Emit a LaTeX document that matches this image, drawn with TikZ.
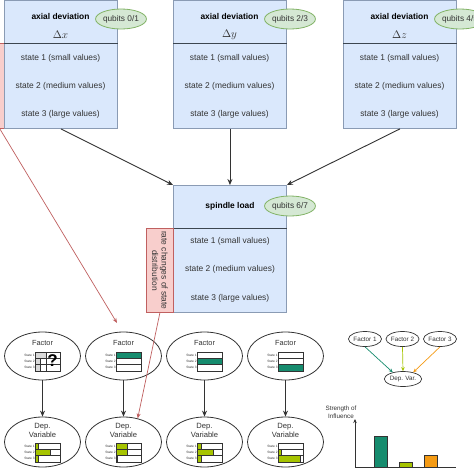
\documentclass[tikz,border=0pt]{standalone}
\usepackage{fontspec}
\setmainfont{Liberation Sans}
\usetikzlibrary{arrows.meta,shapes.geometric}
\definecolor{boxfill}{HTML}{DAE8FC}
\definecolor{boxline}{HTML}{8A9BB4}
\definecolor{divline}{HTML}{3C4650}
\definecolor{redfill}{HTML}{F8CECC}
\definecolor{redline}{HTML}{C06060}
\definecolor{grnfill}{HTML}{D5E8D4}
\definecolor{grnline}{HTML}{82B366}
\definecolor{tealc}{RGB}{22,140,110}
\definecolor{limec}{RGB}{166,196,0}
\definecolor{orangec}{RGB}{245,155,20}
\definecolor{ink}{HTML}{333333}
\definecolor{cellgray}{HTML}{D9D9D9}
\tikzset{
  hdr/.style={draw=boxline, fill=boxfill, line width=0.9pt, minimum width=113pt, minimum height=43pt, inner sep=0pt, anchor=north west},
  bdy/.style={hdr, minimum height=85pt},
  redbox/.style={draw=redline, fill=redfill, line width=0.8pt, minimum width=27pt, minimum height=84pt, inner sep=0pt, anchor=north west},
  divider/.style={draw=divline, line width=1pt},
  qub/.style={ellipse, draw=grnline, fill=grnfill, line width=0.8pt, minimum width=48pt, minimum height=20pt, inner sep=0pt, font=\fontsize{8.3}{10}\selectfont, text=ink},
  lbl/.style={inner sep=0pt, text=ink, font=\fontsize{8.4}{10}\selectfont},
  ttl/.style={inner sep=0pt, text=black, font=\bfseries\fontsize{8.4}{10}\selectfont},
  mth/.style={inner sep=0pt, text=ink, font=\fontsize{10.5}{12}\selectfont},
  blk/.style={draw=ink, line width=0.9pt, -{Stealth[length=6pt,width=5pt]}},
  redarr/.style={draw=redline, line width=0.7pt, -{Stealth[length=5pt,width=4pt]}},
  fell/.style={ellipse, draw=ink, line width=0.8pt, minimum width=76pt, minimum height=48pt, inner sep=0pt},
  dell/.style={fell, minimum height=50pt},
  small/.style={inner sep=0pt, text=ink, font=\fontsize{7.4}{9}\selectfont, align=center},
  stl/.style={inner sep=0pt, anchor=east, text=ink, font=\fontsize{3.2}{3.5}\selectfont},
  tbl/.style={draw=ink, line width=0.6pt},
  sell/.style={ellipse, draw=ink, line width=0.7pt, minimum width=33pt, minimum height=15pt, inner sep=0pt, font=\fontsize{6.3}{7}\selectfont, text=ink},
  axisln/.style={draw=ink, line width=0.8pt},
}
% table grid: name, left, top, row height
\newcommand\gridtab[4]{%
  \foreach \k in {1,2,3}{
    \node[stl] (#1-s\k) at ({#2-0.7},{#3+(\k-0.5)*#4}) {State \k};
  }
  \draw[tbl] (#2,#3) rectangle ({#2+25},{#3+3*#4});
  \draw[tbl] (#2,{#3+#4}) -- ({#2+25},{#3+#4});
  \draw[tbl] (#2,{#3+2*#4}) -- ({#2+25},{#3+2*#4});
}
% dep bars: left, top, row height, f1, f2, f3
\newcommand\mydepbars[6]{%
  \draw[ink, line width=0.6pt, fill=limec] (#1,#2) rectangle ({#1+25*#4},{#2+#3});
  \draw[ink, line width=0.6pt, fill=limec] (#1,{#2+#3}) rectangle ({#1+25*#5},{#2+2*#3});
  \draw[ink, line width=0.6pt, fill=limec] (#1,{#2+2*#3}) rectangle ({#1+25*#6},{#2+3*#3});
}
\begin{document}
\begin{tikzpicture}[x=1pt,y=-1pt]
\useasboundingbox (0,0) rectangle (474,474);
\clip (0,0) rectangle (474,474);
\fill[white] (0,0) rectangle (474,474);

% left red strip (partly outside)
\node[redbox, minimum height=85pt] (rstrip) at (-23,43) {};

% top boxes
\foreach \i/\x/\v/\qa/\qb in {1/4/x/0/1, 2/173/y/2/3, 3/343/z/4/5}{
  \pgfmathsetmacro\cx{\x+56.5}
  \pgfmathsetmacro\qx{\x+117}
  \node[hdr] (h\i) at (\x,0) {};
  \node[bdy] (b\i) at (\x,43) {};
  \draw[divider] (h\i.south west) -- (h\i.south east);
  \node[ttl] (t\i) at (\cx,16) {axial deviation};
  \node[mth] (d\i) at (\cx,35) {$\Delta \v$};
  \node[lbl] (s\i a) at (\cx,58) {state 1 (small values)};
  \node[lbl] (s\i b) at (\cx,86) {state 2 (medium values)};
  \node[lbl] (s\i c) at (\cx,114) {state 3 (large values)};
  \node[qub] (q\i) at (\qx,19) {qubits \qa/\qb};
}

% spindle load
\node[hdr] (sh) at (173,185) {};
\node[bdy, minimum height=84pt] (sb) at (173,228) {};
\draw[divider] (sh.south west) -- (sh.south east);
\node[ttl] (st) at (230,206) {spindle load};
\node[qub] (q4) at (290,206) {qubits 6/7};
\node[lbl] (ss1) at (230,241) {state 1 (small values)};
\node[lbl] (ss2) at (230,269) {state 2 (medium values)};
\node[lbl] (ss3) at (230,298) {state 3 (large values)};
\node[redbox] (rbox) at (146,228) {};
\node[lbl, rotate=-90, align=center, font=\fontsize{8.4}{9.6}\selectfont] (rtxt) at (rbox.center) {rate changes of state\\distribution};

% arrows into spindle
\draw[blk] (b1.south) -- (sh.north west);
\draw[blk] (b2.south) -- (sh.north);
\draw[blk] (b3.south) -- (sh.north east);

% bottom factor / dep nodes
\foreach \i/\c in {1/42.5,2/123.5,3/204.5,4/285.5}{
  \node[fell] (f\i) at (\c,356) {};
  \node[small] (ft\i) at (\c,343) {Factor};
  \node[dell] (dv\i) at (\c,442) {};
  \node[small, font=\fontsize{7.6}{9}\selectfont] (dt\i) at (\c,430.5) {Dep.\\Variable};
  \draw[blk] (f\i.south) -- (dv\i.north);
}

% factor tables
% factor 1 with question mark
\fill[cellgray] (35.5,352) rectangle (46.5,358.33);
\fill[cellgray] (35.5,358.33) rectangle (40.5,371);
\gridtab{ga}{35.5}{352}{6.333}
\draw[tbl] (40.5,358.33) -- (40.5,371);
\draw[tbl] (46.5,352) -- (46.5,371);
\node[inner sep=0pt, font=\bfseries\fontsize{17}{17}\selectfont] (qm) at (52.5,360.5) {?};
% factor 2
\fill[tealc] (116.5,352) rectangle (141.5,358.33);
\gridtab{gb}{116.5}{352}{6.333}
% factor 3
\fill[tealc] (197.5,358.33) rectangle (222.5,364.67);
\gridtab{gc}{197.5}{352}{6.333}
% factor 4
\fill[tealc] (278.5,364.67) rectangle (303.5,371);
\gridtab{gd}{278.5}{352}{6.333}

% dep tables
\mydepbars{35.5}{443}{6.333}{0.13}{0.58}{0.11}
\gridtab{da}{35.5}{443}{6.333}
\mydepbars{116.5}{443}{6.333}{0.45}{0.45}{0.05}
\gridtab{db}{116.5}{443}{6.333}
\mydepbars{197.5}{443}{6.333}{0.15}{0.62}{0.15}
\gridtab{dc}{197.5}{443}{6.333}
\mydepbars{278.5}{443}{6.333}{0.0}{0.12}{0.88}
\gridtab{dd}{278.5}{443}{6.333}

% red arrows
\coordinate (f2tip) at (117,323);
\draw[redarr] ([xshift=-5pt]rstrip.south east) -- (f2tip);
\draw[redarr] (rbox.south) -- (dv2.59);

% right: small graph
\node[sell] (g1) at (365,339) {Factor 1};
\node[sell] (g2) at (402.5,339) {Factor 2};
\node[sell] (g3) at (440,339) {Factor 3};
\node[sell, minimum width=37pt] (gd) at (403,379) {Dep. Var.};
\draw[tealc, line width=0.7pt, -{Stealth[length=4pt,width=3.5pt]}] (g1.south) -- (gd.147);
\draw[limec, line width=0.7pt, -{Stealth[length=4pt,width=3.5pt]}] (g2.south) -- (gd.north);
\draw[orangec, line width=0.7pt, -{Stealth[length=4pt,width=3.5pt]}] (g3.south) -- (gd.33);

% bar chart
\coordinate (co) at (355,467);
\coordinate (cy) at (355,419);
\coordinate (cx) at (456,467);
\draw[axisln, -{Stealth[length=4pt,width=3.5pt]}] (co) -- (cy);
\draw[axisln] (co) -- (cx);
\node[inner sep=0pt, align=center, text=ink, font=\fontsize{6.3}{8}\selectfont] (clab) at (341,412) {Strength of\\Influence};
\draw[ink, line width=0.7pt, fill=tealc] (374,436) rectangle (387,467);
\draw[ink, line width=0.7pt, fill=limec] (399,462) rectangle (412,467);
\draw[ink, line width=0.7pt, fill=orangec] (424,455) rectangle (437,467);
\end{tikzpicture}
\end{document}
